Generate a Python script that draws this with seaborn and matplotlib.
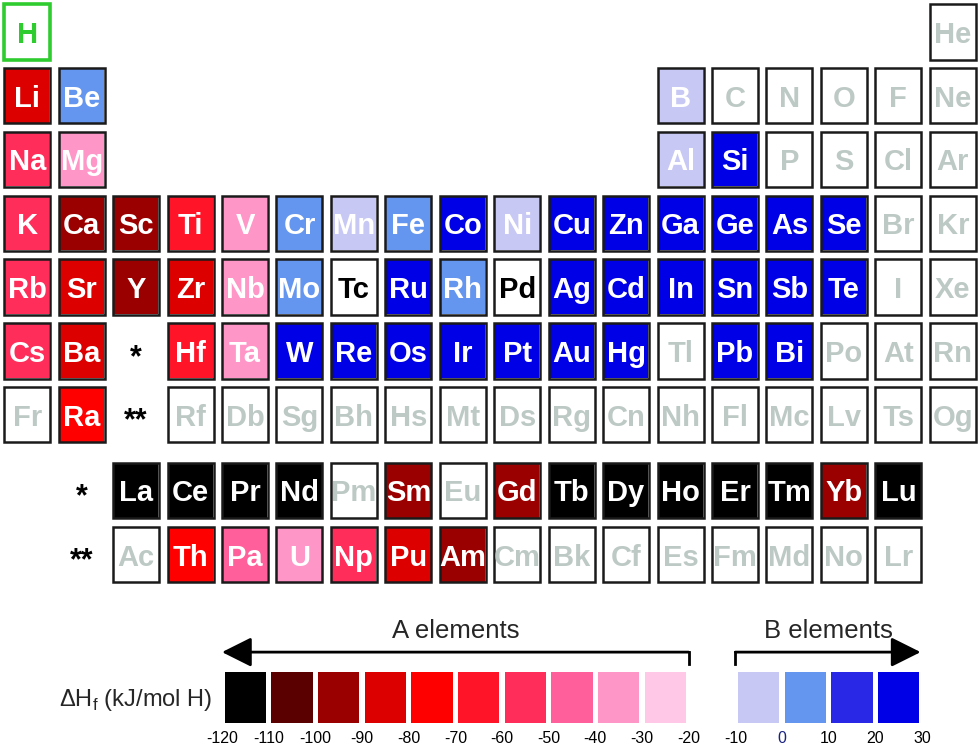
import numpy as np
import pandas as pd
import matplotlib
matplotlib.use('Agg')
import matplotlib.pyplot as plt
import matplotlib.transforms as mtransforms
from matplotlib.colors import ListedColormap, BoundaryNorm
from matplotlib.patches import Rectangle
import seaborn as sns

nan = np.nan

### DATA ###
# Periodic table layout (18 groups) and hydride formation enthalpy bin (kJ/mol H)
p1_sym = ['H'] + [''] * 16 + ['He']
p1_dh = [nan] * 18
p2_sym = ['Li', 'Be'] + [''] * 10 + ['B', 'C', 'N', 'O', 'F', 'Ne']
p2_dh = [-85, 5] + [nan] * 10 + [-5, nan, nan, nan, nan, nan]
p3_sym = ['Na', 'Mg'] + [''] * 10 + ['Al', 'Si', 'P', 'S', 'Cl', 'Ar']
p3_dh = [-55, -35] + [nan] * 10 + [-5, 25, nan, nan, nan, nan]
p4_sym = ['K', 'Ca', 'Sc', 'Ti', 'V', 'Cr', 'Mn', 'Fe', 'Co', 'Ni', 'Cu', 'Zn',
          'Ga', 'Ge', 'As', 'Se', 'Br', 'Kr']
p4_dh = [-55, -95, -95, -65, -35, 5, -5, 5, 25, -5, 25, 25, 25, 25, 25, 25, nan, nan]
p5_sym = ['Rb', 'Sr', 'Y', 'Zr', 'Nb', 'Mo', 'Tc', 'Ru', 'Rh', 'Pd', 'Ag', 'Cd',
          'In', 'Sn', 'Sb', 'Te', 'I', 'Xe']
p5_dh = [-55, -85, -95, -85, -35, 5, -15, 25, 5, -15, 25, 25, 25, 25, 25, 25, nan, nan]
p6_sym = ['Cs', 'Ba', '*', 'Hf', 'Ta', 'W', 'Re', 'Os', 'Ir', 'Pt', 'Au', 'Hg',
          'Tl', 'Pb', 'Bi', 'Po', 'At', 'Rn']
p6_dh = [-55, -85, nan, -65, -35, 25, 25, 25, 25, 25, 25, 25, nan, 25, 25, nan, nan, nan]
p7_sym = ['Fr', 'Ra', '**', 'Rf', 'Db', 'Sg', 'Bh', 'Hs', 'Mt', 'Ds', 'Rg', 'Cn',
          'Nh', 'Fl', 'Mc', 'Lv', 'Ts', 'Og']
p7_dh = [nan, -75] + [nan] * 16

lan_sym = ['', '*', 'La', 'Ce', 'Pr', 'Nd', 'Pm', 'Sm', 'Eu', 'Gd', 'Tb', 'Dy',
           'Ho', 'Er', 'Tm', 'Yb', 'Lu', '']
lan_dh = [nan, nan, -115, -115, -115, -115, nan, -95, nan, -95, -115, -115,
          -115, -115, -115, -95, -115, nan]
act_sym = ['', '**', 'Ac', 'Th', 'Pa', 'U', 'Np', 'Pu', 'Am', 'Cm', 'Bk', 'Cf',
           'Es', 'Fm', 'Md', 'No', 'Lr', '']
act_dh = [nan, nan, nan, -75, -45, -35, -55, -85, -95] + [nan] * 9

# colour scale bins
a_edges = [-120, -110, -100, -90, -80, -70, -60, -50, -40, -30, -20]
a_colors = ['#000000', '#5a0000', '#9b0000', '#dc0000', '#ff0000', '#ff1428',
            '#ff2d5a', '#ff5f9b', '#ff96c8', '#ffc8e6']
b_edges = [-10, 0, 10, 20, 30]
b_colors = ['#c8c8f5', '#6496f0', '#2828e6', '#0000e6']

cmap = ListedColormap(a_colors + ['#ffffff'] + b_colors)
norm = BoundaryNorm(a_edges + b_edges, cmap.N)

sns.set_theme(style='white')
plt.rcParams['font.family'] = ['Liberation Sans', 'DejaVu Sans']

W, H = 980, 748
fig = plt.figure(figsize=(9.8, 7.48), dpi=100)


def px_axes(left, top, width, height):
    return fig.add_axes([left / W, 1 - (top + height) / H, width / W, height / H])


GRAY = '#bdc9c5'
GREEN = '#2ecc2e'
INSET = 4.2  # px between grid line and cell edge


def draw_block(ax, sym_rows, dh_rows, row_px):
    vals = np.array(dh_rows, dtype=float)
    sns.heatmap(vals, ax=ax, cmap=cmap, norm=norm, cbar=False,
                linewidths=2 * INSET * 0.72, linecolor='white',
                xticklabels=False, yticklabels=False)
    gx = INSET / (W / 18)
    gy = INSET / row_px
    for i, row in enumerate(sym_rows):
        for j, s in enumerate(row):
            if not s:
                continue
            v = vals[i, j]
            if s.startswith('*'):
                ax.text(j + 0.5, i + 0.5 + 15 / row_px, s, color='black', fontsize=22,
                        fontweight='bold', ha='center', va='baseline')
                continue
            edge, lw = '#1a1a1a', 1.8
            if s == 'H':
                edge, tc, lw = GREEN, GREEN, 2.6
            elif np.isnan(v):
                tc = GRAY
            elif a_edges[-1] <= v < b_edges[0]:
                tc = 'black'
            else:
                tc = 'white'
            ax.add_patch(Rectangle((j + gx, i + gy), 1 - 2 * gx, 1 - 2 * gy,
                                   fill=False, edgecolor=edge, lw=lw))
            ax.text(j + 0.5, i + 0.5 + 11 / row_px, s, color=tc, fontsize=21,
                    fontweight='bold', ha='center', va='baseline')


ax_main = px_axes(0, 0, 980, 446.6)
draw_block(ax_main,
           [p1_sym, p2_sym, p3_sym, p4_sym, p5_sym, p6_sym, p7_sym],
           [p1_dh, p2_dh, p3_dh, p4_dh, p5_dh, p6_dh, p7_dh], 446.6 / 7)

ax_f = px_axes(0, 458.5, 980, 128)
draw_block(ax_f, [lan_sym, act_sym], [lan_dh, act_dh], 64)

### COLOUR LEGEND ###
ax_leg = px_axes(222, 672, 700, 51)
centers = [(lo + hi) / 2 for lo, hi in zip(a_edges[:-1], a_edges[1:])] + \
          [(lo + hi) / 2 for lo, hi in zip(b_edges[:-1], b_edges[1:])]
labels = [f'bin{c}' for c in centers]
leg = pd.DataFrame({'center': centers, 'bin': labels, 'h': 1.0})
sns.barplot(data=leg, x='center', y='h', hue='bin',
            palette=dict(zip(labels, a_colors + b_colors)), saturation=1,
            native_scale=True, width=0.88, linewidth=0, errorbar=None,
            legend=False, ax=ax_leg)
ax_leg.set_xlim(a_edges[0], b_edges[-1])
ax_leg.set_ylim(0, 1)
ax_leg.set_xlabel('')
ax_leg.set_ylabel('')
ax_leg.set_yticks([])
ticks = a_edges + b_edges
ax_leg.set_xticks(ticks)
ax_leg.set_xticklabels([str(t) for t in ticks])
ax_leg.tick_params(axis='x', length=0, pad=6, labelsize=11.5, labelcolor='black')
for lab in ax_leg.get_xticklabels():
    if lab.get_text() == '0':
        lab.set_color('#1a237e')
sns.despine(ax=ax_leg, left=True, bottom=True)

trans = mtransforms.blended_transform_factory(ax_leg.transData, ax_leg.transAxes)
y_arrow, y_stub, y_txt = 1.39, 1.16, 1.80
arrow_kw = dict(arrowstyle='-|>,head_length=1.3,head_width=0.65', mutation_scale=14,
                lw=2, color='black', shrinkA=0, shrinkB=0)

# A elements: arrow pointing to more negative values
ax_leg.plot([a_edges[-1]] * 2, [y_stub, y_arrow], color='black', lw=2,
            transform=trans, clip_on=False, solid_capstyle='projecting')
ax_leg.annotate('', xy=(a_edges[0], y_arrow), xytext=(a_edges[-1], y_arrow),
                xycoords=trans, textcoords=trans, arrowprops=arrow_kw,
                annotation_clip=False)
ax_leg.text((a_edges[0] + a_edges[-1]) / 2, y_txt, 'A elements', transform=trans,
            ha='center', va='center', fontsize=18.5)

# B elements: arrow pointing to more positive values
ax_leg.plot([b_edges[0]] * 2, [y_stub, y_arrow], color='black', lw=2,
            transform=trans, clip_on=False, solid_capstyle='projecting')
ax_leg.annotate('', xy=(b_edges[-1] - 0.3, y_arrow), xytext=(b_edges[0], y_arrow),
                xycoords=trans, textcoords=trans, arrowprops=arrow_kw,
                annotation_clip=False)
ax_leg.text((b_edges[0] + b_edges[-1]) / 2, y_txt, 'B elements', transform=trans,
            ha='center', va='center', fontsize=18.5)

ax_leg.text(a_edges[0] - 2.2, 0.45, r'ΔH$_\mathregular{f}$ (kJ/mol H)', transform=trans,
            ha='right', va='center', fontsize=17)

fig.savefig('out.png', dpi=100)
